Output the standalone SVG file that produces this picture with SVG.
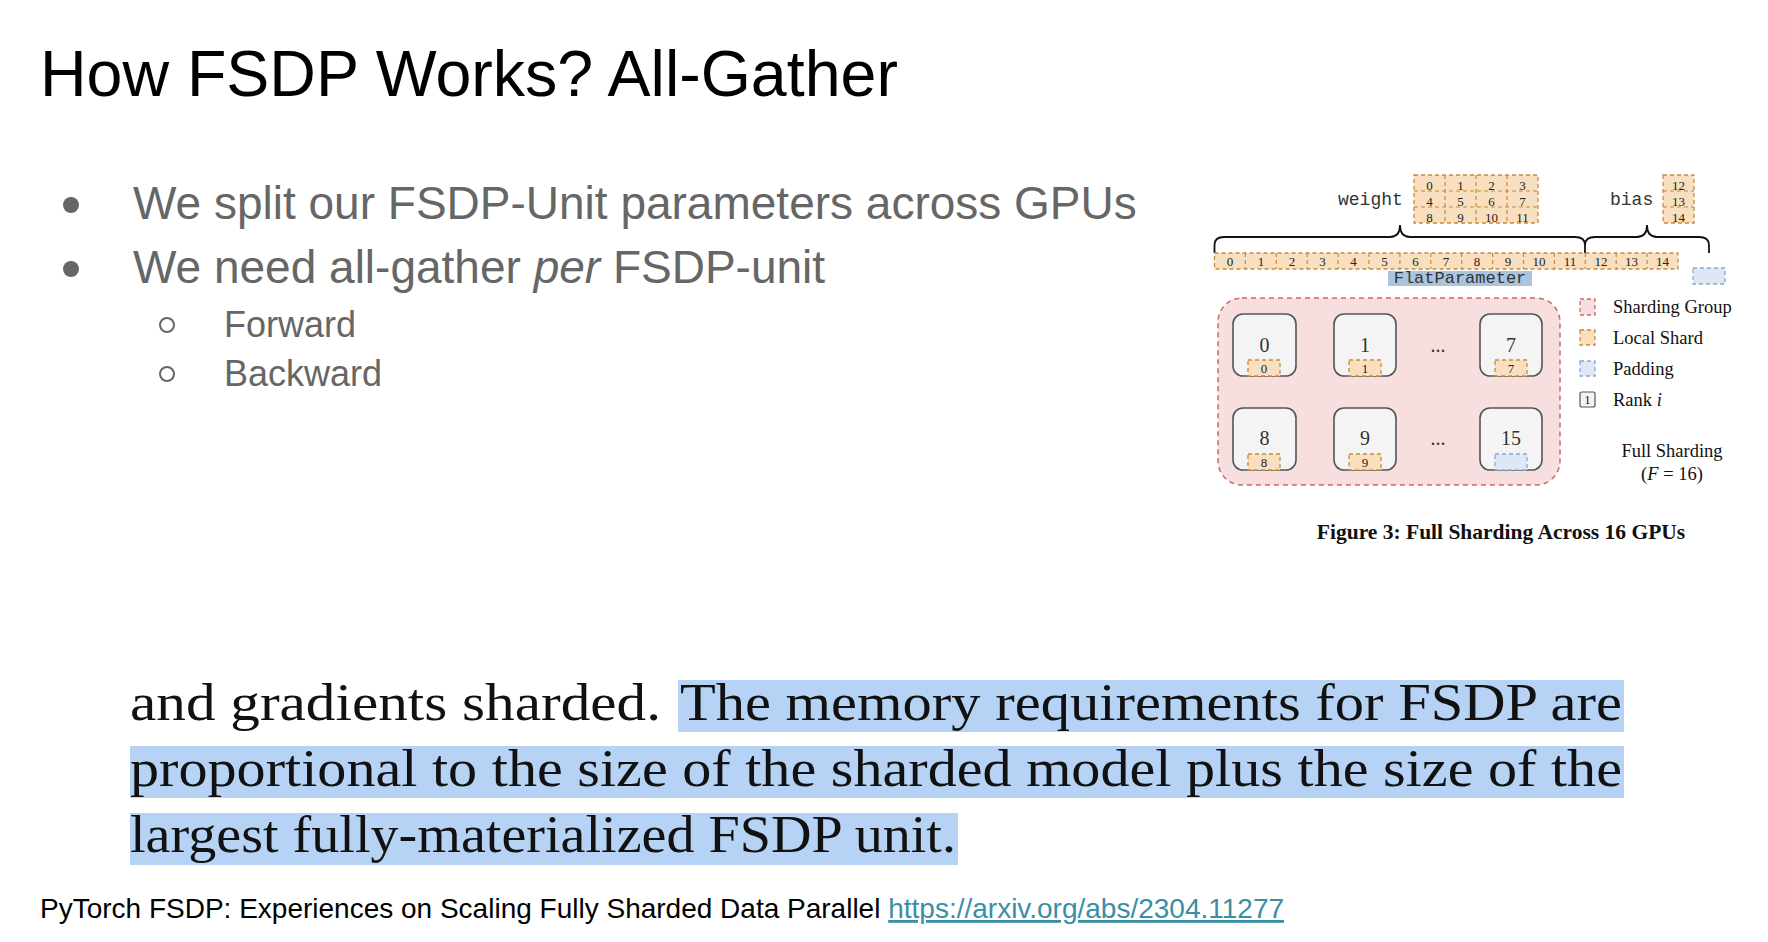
<svg xmlns="http://www.w3.org/2000/svg" width="1768" height="942" viewBox="0 0 1768 942">
<style>
.s{font-family:"Liberation Sans",Arial,sans-serif}
.g{fill:#666}
.serif{font-family:"Liberation Serif","Times New Roman",serif;fill:#111}
.mono{font-family:"Liberation Mono","Courier New",monospace;fill:#333}
.cell{fill:#f8dfbf;stroke:#c98a3c;stroke-width:1.3;stroke-dasharray:4 3}
.pad{fill:#dde7f6;stroke:#8aa6d6;stroke-width:1.3;stroke-dasharray:4 3}
.gpu{fill:#f4f4f4;stroke:#555;stroke-width:1.6}
.cn{font-family:"Liberation Serif",serif;font-size:13px;fill:#222;text-anchor:middle}
.gn{font-family:"Liberation Serif",serif;font-size:20px;fill:#333;text-anchor:middle}
.hl{fill:#b6d3f6}
</style>
<rect width="1768" height="942" fill="#fff"/>
<text class="s" x="40" y="96" font-size="64.5" fill="#000">How FSDP Works? All-Gather</text>
<g id="bullets" class="s g">
<circle cx="71" cy="205" r="8" fill="#666"/>
<text x="133" y="219" font-size="46">We split our FSDP-Unit parameters across GPUs</text>
<circle cx="71" cy="269" r="8" fill="#666"/>
<text x="133" y="283" font-size="46">We need all-gather <tspan font-style="italic">per</tspan> FSDP-unit</text>
<circle cx="167" cy="325" r="7" fill="none" stroke="#666" stroke-width="2"/>
<text x="224" y="337" font-size="36">Forward</text>
<circle cx="167" cy="374" r="7" fill="none" stroke="#666" stroke-width="2"/>
<text x="224" y="386" font-size="36">Backward</text>
</g>
<g id="figure">
<text class="mono" x="1338" y="205" font-size="18">weight</text>
<text class="mono" x="1610" y="205" font-size="18">bias</text>
<g id="weight-grid">
<rect class="cell" x="1414" y="175" width="124" height="48"/>
<g class="cn">
<text x="1429.5" y="190">0</text><text x="1460.5" y="190">1</text><text x="1491.5" y="190">2</text><text x="1522.5" y="190">3</text>
<text x="1429.5" y="206">4</text><text x="1460.5" y="206">5</text><text x="1491.5" y="206">6</text><text x="1522.5" y="206">7</text>
<text x="1429.5" y="222">8</text><text x="1460.5" y="222">9</text><text x="1491.5" y="222">10</text><text x="1522.5" y="222">11</text>
</g>
<path d="M1414 191H1538M1414 207H1538M1445 175V223M1476 175V223M1507 175V223" stroke="#c98a3c" stroke-width="1.2" stroke-dasharray="4 3"/>
</g>
<g id="bias-grid">
<rect class="cell" x="1663" y="175" width="31" height="48"/>
<path d="M1663 191H1694M1663 207H1694" stroke="#c98a3c" stroke-width="1.2" stroke-dasharray="4 3"/>
<g class="cn"><text x="1678.5" y="190">12</text><text x="1678.5" y="206">13</text><text x="1678.5" y="222">14</text></g>
</g>
<g id="braces" fill="none" stroke="#111" stroke-width="1.8">
<path d="M1214.5 253V245Q1214.5 237 1224 237H1390Q1400 237 1400 225Q1400 237 1410 237H1575Q1585 237 1585 245V253"/>
<path d="M1585 245Q1585 237 1595 237H1637Q1647 237 1647 225Q1647 237 1657 237H1699Q1709 237 1709 245V253"/>
</g>
<g id="flat">
<rect class="cell" x="1214.5" y="253" width="463.5" height="16"/>
<path d="M1245.4 253V269M1276.3 253V269M1307.2 253V269M1338.1 253V269M1369 253V269M1399.9 253V269M1430.8 253V269M1461.7 253V269M1492.6 253V269M1523.5 253V269M1554.4 253V269M1585.3 253V269M1616.2 253V269M1647.1 253V269" stroke="#c98a3c" stroke-width="1.2" stroke-dasharray="4 3"/>
<g class="cn">
<text x="1230" y="266">0</text><text x="1261" y="266">1</text><text x="1292" y="266">2</text><text x="1322.5" y="266">3</text><text x="1353.5" y="266">4</text><text x="1384.5" y="266">5</text><text x="1415.5" y="266">6</text><text x="1446" y="266">7</text><text x="1477" y="266">8</text><text x="1508" y="266">9</text><text x="1539" y="266">10</text><text x="1570" y="266">11</text><text x="1601" y="266">12</text><text x="1631.5" y="266">13</text><text x="1662.5" y="266">14</text>
</g>
<rect class="pad" x="1693" y="268" width="32" height="16"/>
<rect x="1388" y="271" width="144" height="15" fill="#a9c4dc"/>
<text class="mono" x="1460" y="283" font-size="17" text-anchor="middle">FlatParameter</text>
</g>
<rect id="sharding-group" x="1218" y="298" width="342" height="187" rx="24" fill="#f6dfde" stroke="#c86a6a" stroke-width="1.5" stroke-dasharray="5 4"/>
<g id="gpu0"><rect class="gpu" x="1233" y="314" width="63" height="62" rx="10"/><text class="gn" x="1264.5" y="352">0</text><rect class="cell" x="1248" y="360" width="32" height="16"/><text class="cn" x="1264" y="373">0</text></g>
<g id="gpu1"><rect class="gpu" x="1334" y="314" width="62" height="62" rx="10"/><text class="gn" x="1365" y="352">1</text><rect class="cell" x="1349" y="360" width="32" height="16"/><text class="cn" x="1365" y="373">1</text></g>
<g id="gpu7"><rect class="gpu" x="1480" y="314" width="62" height="62" rx="10"/><text class="gn" x="1511" y="352">7</text><rect class="cell" x="1495" y="360" width="32" height="16"/><text class="cn" x="1511" y="373">7</text></g>
<g id="gpu8"><rect class="gpu" x="1233" y="408" width="63" height="62" rx="10"/><text class="gn" x="1264.5" y="445">8</text><rect class="cell" x="1248" y="454" width="32" height="16"/><text class="cn" x="1264" y="467">8</text></g>
<g id="gpu9"><rect class="gpu" x="1334" y="408" width="62" height="62" rx="10"/><text class="gn" x="1365" y="445">9</text><rect class="cell" x="1349" y="454" width="32" height="16"/><text class="cn" x="1365" y="467">9</text></g>
<g id="gpu15"><rect class="gpu" x="1480" y="408" width="62" height="62" rx="10"/><text class="gn" x="1511" y="445">15</text><rect class="pad" x="1495" y="454" width="32" height="16"/></g>
<text class="gn" x="1438" y="352">...</text>
<text class="gn" x="1438" y="445">...</text>
<g id="legend" class="serif" font-size="18.5">
<rect x="1580" y="299" width="15" height="16" fill="#f6dfde" stroke="#c86a6a" stroke-width="1.3" stroke-dasharray="4 3"/>
<text x="1613" y="313">Sharding Group</text>
<rect class="cell" x="1580" y="330" width="15" height="15"/>
<text x="1613" y="344">Local Shard</text>
<rect class="pad" x="1580" y="361" width="15" height="15"/>
<text x="1613" y="375">Padding</text>
<rect x="1580" y="392" width="15" height="15" rx="2" fill="#f4f4f4" stroke="#555" stroke-width="1.2"/>
<text x="1587.5" y="404" font-size="12" text-anchor="middle">1</text>
<text x="1613" y="406">Rank <tspan font-style="italic">i</tspan></text>
<text x="1672" y="457" text-anchor="middle">Full Sharding</text>
<text x="1672" y="480" text-anchor="middle">(<tspan font-style="italic">F</tspan> = 16)</text>
</g>
<text class="serif" x="1501" y="539" font-size="21.5" font-weight="bold" text-anchor="middle">Figure 3: Full Sharding Across 16 GPUs</text>
</g>
<g id="quote">
<rect class="hl" x="678" y="680" width="946" height="52"/>
<rect class="hl" x="130" y="746" width="1494" height="52"/>
<rect class="hl" x="130" y="813" width="828" height="52"/>
<g class="serif" font-size="52">
<text x="130" y="720" textLength="531" lengthAdjust="spacingAndGlyphs">and gradients sharded.</text>
<text x="680" y="720" textLength="942" lengthAdjust="spacingAndGlyphs">The memory requirements for FSDP are</text>
<text x="130" y="786" textLength="1492" lengthAdjust="spacingAndGlyphs">proportional to the size of the sharded model plus the size of the</text>
<text x="130" y="852" textLength="826" lengthAdjust="spacingAndGlyphs">largest fully-materialized FSDP unit.</text>
</g>
</g>
<text class="s" x="40" y="918" font-size="28" fill="#000">PyTorch FSDP: Experiences on Scaling Fully Sharded Data Parallel <tspan fill="#3b8ea5" text-decoration="underline">https://arxiv.org/abs/2304.11277</tspan></text>
</svg>
